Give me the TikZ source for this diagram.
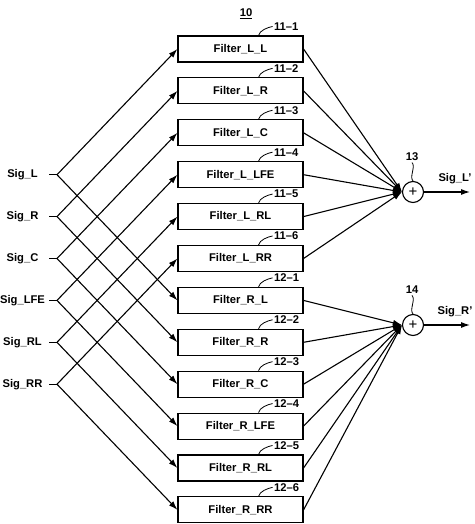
\documentclass[tikz,border=0pt]{standalone}
\usepackage{fontspec}
\setmainfont{Liberation Sans}
\usetikzlibrary{positioning,arrows.meta}
\begin{document}
\begin{tikzpicture}[
    x=1pt, y=-1pt, line width=1.1pt,
    txt/.style={font=\fontsize{11.2}{13}\selectfont\bfseries, inner sep=1pt},
    filterbox/.style={draw, txt, minimum width=125pt, minimum height=26pt},
    sumnode/.style={circle, draw, minimum size=21pt, inner sep=0pt, font=\fontsize{15}{15}\selectfont},
    arr/.style={-{Latex[length=9pt,width=6pt]}},
    tag/.style={line width=0.8pt}
  ]
  \useasboundingbox (0,0) rectangle (474,524);
  \node[txt] (title) at (246,14) {\underline{10}};
  % summers
  \node[sumnode] (sumL) at (413,192) {+};
  \node[sumnode] (sumR) at (413,325) {+};
  \node[txt] (nsumL) at (412,157) {13};
  \node[txt] (nsumR) at (412,290) {14};
  \draw[tag] (sumL.north) .. controls +(-4,-4) and +(4,4) .. (nsumL.south);
  \draw[tag] (sumR.north) .. controls +(-4,-4) and +(4,4) .. (nsumR.south);
  \coordinate (oL) at (470,192);
  \coordinate (oR) at (470,325);
  \draw[arr] (sumL.east) -- (oL);
  \draw[arr] (sumR.east) -- (oR);
  \node[txt] (outL) at (455,179) {Sig\_L'};
  \node[txt] (outR) at (455,312) {Sig\_R'};
  % filters and inputs
  \foreach \n [count=\k] in {L,R,C,LFE,RL,RR} {
    \node[filterbox] (fL\k) at (240.5,49+41.9*\k-41.9) {Filter\_L\_\n};
    \node[filterbox] (fR\k) at (240.5,300.4+41.9*\k-41.9) {Filter\_R\_\n};
    \node[txt, anchor=west] (nL\k) at ([xshift=-31pt,yshift=9pt]fL\k.north east) {11--\k};
    \node[txt, anchor=west] (nR\k) at ([xshift=-31pt,yshift=9pt]fR\k.north east) {12--\k};
    \draw[tag] ([xshift=-45pt]fL\k.north east) .. controls +(1,-5) and +(-5,1) .. (nL\k.west);
    \draw[tag] ([xshift=-45pt]fR\k.north east) .. controls +(1,-5) and +(-5,1) .. (nR\k.west);
    \draw[arr] (fL\k.east) -- (sumL.west);
    \draw[arr] (fR\k.east) -- (sumR.west);
    \node[txt] (sig\k) at (22.5,174.7+41.9*\k-41.9) {Sig\_\n};
    \coordinate (s\k) at (49,174.7+41.9*\k-41.9);
    \coordinate (b\k) at (57,174.7+41.9*\k-41.9);
    \draw (s\k) -- (b\k);
    \draw[arr] (b\k) -- (fL\k.west);
    \draw[arr] (b\k) -- (fR\k.west);
  }
\end{tikzpicture}
\end{document}
